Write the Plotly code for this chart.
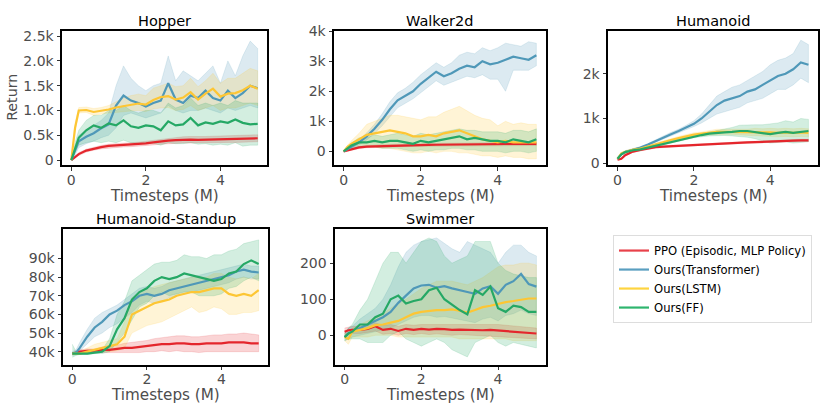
import plotly.graph_objects as go

# ---------------- data ----------------
X = [0, 0.1, 0.2, 0.4, 0.6, 0.8, 1.0, 1.2, 1.4, 1.6, 1.8, 2.0, 2.2, 2.4, 2.6,
     2.8, 3.0, 3.2, 3.4, 3.6, 3.8, 4.0, 4.2, 4.4, 4.6, 4.8, 5.0]

series_names = ["PPO (Episodic, MLP Policy)", "Ours(Transformer)", "Ours(LSTM)", "Ours(FF)"]
colors = ["#e4262c", "#4f98b8", "#fdc634", "#25a865"]
legend_colors = ["#e8414a", "#5a9fc0", "#fed43f", "#2eb56e"]

# Hopper
hop_ppo = [0, 60, 120, 190, 230, 260, 285, 295, 305, 310, 320, 335, 355, 375, 390, 400, 410, 410, 405, 410, 415, 415, 420, 425, 425, 435, 440]
hop_ppo_lo = [0, 40, 90, 160, 200, 225, 250, 255, 265, 270, 280, 290, 305, 320, 330, 340, 345, 345, 340, 345, 350, 350, 355, 355, 355, 360, 370]
hop_ppo_hi = [0, 80, 150, 220, 260, 295, 320, 335, 345, 350, 360, 380, 400, 425, 445, 460, 470, 475, 470, 475, 480, 480, 490, 495, 500, 510, 510]
hop_tr = [0, 200, 380, 470, 540, 640, 720, 1100, 1300, 1200, 1150, 1080, 1150, 1200, 1550, 1220, 1150, 1300, 1250, 1400, 1250, 1200, 1400, 1250, 1350, 1500, 1450]
hop_tr_lo = [0, 100, 250, 330, 380, 450, 500, 650, 900, 950, 900, 850, 900, 950, 1100, 1000, 950, 1000, 1000, 1050, 1000, 950, 1050, 1000, 1050, 1100, 1050]
hop_tr_hi = [0, 300, 500, 600, 700, 800, 950, 1500, 1900, 1650, 1500, 1400, 1500, 1550, 2100, 1600, 1800, 1700, 1600, 1750, 1900, 1550, 2000, 1700, 2100, 2400, 2250]
hop_lstm = [0, 650, 1000, 1010, 970, 990, 1020, 1060, 1085, 1110, 1140, 1120, 1210, 1270, 1290, 1220, 1260, 1370, 1220, 1340, 1440, 1280, 1340, 1350, 1410, 1500, 1440]
hop_lstm_lo = [0, 550, 950, 960, 900, 920, 950, 960, 970, 990, 1000, 980, 1030, 1050, 1060, 1000, 1020, 1100, 1000, 1050, 1100, 1000, 1050, 1050, 1100, 1150, 1100]
hop_lstm_hi = [0, 750, 1060, 1070, 1040, 1060, 1100, 1180, 1250, 1300, 1330, 1300, 1450, 1500, 1550, 1480, 1500, 1650, 1480, 1600, 1750, 1550, 1650, 1650, 1750, 1850, 1800]
hop_ff = [0, 250, 450, 600, 700, 650, 740, 700, 800, 680, 650, 700, 680, 600, 780, 700, 720, 850, 700, 760, 730, 780, 750, 820, 750, 720, 730]
hop_ff_lo = [0, 150, 300, 350, 380, 350, 380, 350, 400, 350, 330, 350, 340, 300, 350, 330, 330, 350, 320, 330, 300, 320, 300, 350, 280, 300, 300]
hop_ff_hi = [0, 350, 600, 800, 900, 900, 1000, 1000, 1100, 1000, 950, 1000, 1000, 950, 1150, 1050, 1100, 1250, 1100, 1150, 1100, 1150, 1100, 1200, 1150, 1150, 1150]

# Walker2d
wal_ppo = [0, 30, 60, 130, 160, 170, 180, 190, 195, 200, 205, 210, 215, 220, 225, 225, 230, 230, 235, 235, 240, 240, 245, 245, 250, 250, 250]
wal_ppo_lo = [0, 10, 30, 90, 120, 130, 140, 150, 155, 160, 165, 170, 170, 175, 180, 180, 185, 185, 190, 190, 190, 190, 195, 195, 195, 195, 195]
wal_ppo_hi = [0, 50, 90, 170, 200, 210, 220, 230, 235, 240, 245, 250, 260, 265, 270, 270, 275, 275, 280, 280, 290, 290, 295, 295, 305, 305, 305]
wal_tr = [0, 80, 150, 300, 500, 750, 1050, 1400, 1700, 1850, 2000, 2250, 2450, 2650, 2500, 2600, 2750, 2850, 2800, 3000, 2900, 2950, 3050, 3150, 3100, 3050, 3200]
wal_tr_lo = [0, 40, 100, 220, 380, 600, 850, 1150, 1450, 1600, 1750, 1950, 2150, 2350, 2200, 2300, 2400, 2500, 2450, 2550, 2400, 2400, 2000, 2700, 2700, 2700, 2850]
wal_tr_hi = [0, 120, 200, 380, 620, 900, 1250, 1650, 1950, 2100, 2300, 2550, 2750, 2950, 2800, 2950, 3200, 3300, 3250, 3450, 3350, 3450, 3600, 3550, 3500, 3650, 3600]
wal_lstm = [0, 150, 250, 400, 550, 600, 650, 700, 650, 600, 500, 500, 550, 500, 600, 650, 700, 600, 500, 400, 350, 300, 350, 300, 300, 300, 300]
wal_lstm_lo = [0, 100, 150, 200, 200, 150, 100, 100, 50, 0, -50, -50, 0, -50, 0, 0, -50, -50, -100, -150, -150, -200, -150, -200, -200, -250, -250]
wal_lstm_hi = [0, 200, 350, 600, 900, 1000, 1100, 1200, 1200, 1150, 1100, 1050, 1150, 1150, 1300, 1400, 1500, 1350, 1200, 1100, 1050, 850, 1000, 900, 950, 900, 900]
wal_ff = [0, 100, 200, 300, 300, 350, 300, 350, 350, 300, 250, 350, 300, 350, 400, 450, 500, 400, 450, 400, 350, 350, 300, 400, 350, 300, 400]
wal_ff_lo = [0, 50, 120, 150, 150, 150, 100, 100, 100, 50, 0, 50, 0, 50, 50, 100, 100, 50, 50, 0, 0, 0, -50, 0, 0, -50, 0]
wal_ff_hi = [0, 150, 280, 450, 450, 550, 500, 550, 600, 550, 500, 600, 550, 600, 650, 700, 750, 700, 700, 650, 650, 650, 600, 700, 700, 650, 750]

# Humanoid
hum_ppo = [80, 100, 180, 260, 300, 330, 360, 370, 380, 390, 400, 410, 420, 430, 440, 445, 450, 460, 465, 470, 480, 490, 495, 500, 505, 510, 510]
hum_ppo_lo = [70, 85, 160, 240, 280, 310, 340, 350, 360, 370, 380, 390, 400, 410, 420, 425, 430, 440, 445, 450, 460, 465, 470, 475, 480, 485, 485]
hum_ppo_hi = [90, 115, 200, 280, 320, 350, 380, 390, 400, 410, 420, 430, 440, 450, 460, 465, 470, 480, 485, 490, 500, 515, 520, 525, 530, 535, 535]
hum_tr = [100, 200, 250, 300, 350, 420, 500, 580, 650, 720, 800, 880, 1000, 1150, 1300, 1400, 1450, 1500, 1600, 1650, 1750, 1850, 1950, 2000, 2100, 2250, 2200]
hum_tr_lo = [90, 170, 220, 280, 330, 400, 470, 550, 610, 680, 750, 820, 900, 1000, 1100, 1150, 1200, 1250, 1350, 1400, 1450, 1550, 1650, 1650, 1750, 1900, 1800]
hum_tr_hi = [110, 230, 280, 320, 370, 440, 530, 610, 690, 760, 850, 950, 1100, 1300, 1500, 1600, 1700, 1750, 1850, 1950, 2050, 2200, 2300, 2350, 2450, 2750, 2650]
hum_lstm = [100, 220, 250, 300, 330, 380, 430, 470, 520, 560, 600, 640, 660, 680, 700, 700, 700, 700, 690, 700, 690, 690, 680, 690, 680, 690, 680]
hum_lstm_lo = [90, 190, 220, 270, 300, 350, 400, 440, 480, 520, 560, 600, 620, 630, 640, 640, 640, 630, 620, 620, 610, 600, 590, 600, 590, 600, 590]
hum_lstm_hi = [110, 250, 280, 330, 360, 410, 460, 500, 560, 600, 640, 680, 700, 730, 760, 760, 760, 770, 760, 780, 770, 780, 770, 780, 770, 780, 770]
hum_ff = [100, 200, 250, 290, 310, 350, 400, 440, 480, 520, 560, 600, 630, 660, 680, 690, 700, 720, 720, 700, 680, 650, 680, 700, 680, 700, 720]
hum_ff_lo = [90, 180, 230, 270, 290, 330, 380, 410, 450, 490, 530, 570, 590, 610, 620, 620, 610, 600, 580, 550, 500, 450, 470, 480, 450, 470, 480]
hum_ff_hi = [110, 220, 270, 310, 330, 370, 420, 470, 510, 550, 590, 630, 670, 700, 730, 760, 800, 850, 860, 860, 860, 880, 900, 950, 920, 1000, 980]

# Humanoid-Standup
hs_ppo = [39000, 39500, 40000, 40500, 40500, 41000, 41000, 41500, 42000, 42000, 42500, 43000, 43500, 44000, 44000, 44500, 44500, 44000, 44000, 44500, 44500, 44500, 45000, 45000, 45000, 44500, 44500]
hs_ppo_lo = [38500, 39000, 39000, 39500, 39500, 39500, 39500, 39500, 39500, 39500, 39500, 40000, 40000, 40500, 40000, 40500, 40000, 40000, 39500, 40000, 40000, 40000, 40000, 40000, 40000, 40000, 40000]
hs_ppo_hi = [39500, 40000, 41000, 41500, 41500, 42500, 43000, 43500, 44500, 45000, 45500, 46000, 47000, 47500, 48000, 48500, 48500, 48000, 48000, 48500, 49000, 49000, 49500, 49500, 50000, 49500, 49000]
hs_tr = [39000, 39500, 42000, 48000, 53000, 56000, 60000, 62000, 65000, 67000, 70000, 71000, 70000, 71000, 73000, 74000, 75000, 76000, 77000, 78000, 79000, 80000, 81000, 83000, 84000, 83000, 82500]
hs_tr_lo = [38000, 38500, 40000, 44000, 48000, 50000, 53000, 55000, 58000, 61000, 65000, 67000, 66000, 67000, 69000, 70000, 71000, 72000, 73000, 74000, 75000, 76000, 77000, 79000, 80000, 79000, 79000]
hs_tr_hi = [40000, 41000, 45000, 52000, 58000, 61000, 63000, 65000, 68000, 71000, 74000, 75000, 74000, 75000, 77000, 78000, 79000, 80000, 81000, 82000, 83000, 84000, 85000, 86000, 87000, 86000, 86000]
hs_lstm = [39000, 39000, 39000, 40000, 41000, 42000, 43000, 44000, 48000, 60000, 62000, 64000, 66000, 67000, 68000, 70000, 71000, 72000, 72000, 73000, 74000, 74000, 71000, 70000, 71000, 70000, 73000]
hs_lstm_lo = [38500, 38500, 38500, 39000, 39500, 40000, 40000, 40500, 42000, 50000, 52000, 54000, 55000, 56000, 58000, 60000, 62000, 64000, 61000, 62000, 64000, 63000, 60000, 60000, 61000, 61000, 62000]
hs_lstm_hi = [39500, 39500, 40000, 42000, 44000, 45000, 46000, 47000, 56000, 69000, 71000, 73000, 75000, 76000, 77000, 78000, 79000, 80000, 80000, 80000, 82000, 82000, 80000, 79000, 80000, 79000, 82000]
hs_ff = [39000, 39000, 39000, 39000, 39500, 40000, 43000, 52000, 58000, 68000, 72000, 74000, 78000, 80000, 79000, 80000, 82000, 81000, 80000, 79000, 78000, 79000, 82000, 83000, 87000, 89000, 87000]
hs_ff_lo = [37000, 38000, 38500, 38500, 39000, 39000, 40000, 45000, 50000, 57000, 64000, 66000, 70000, 72000, 70000, 71000, 72000, 72000, 70000, 70000, 70000, 71000, 74000, 75000, 78000, 80000, 78000]
hs_ff_hi = [44000, 40000, 39500, 39500, 40000, 41000, 47000, 60000, 67000, 78000, 81000, 84000, 87000, 88000, 88000, 89000, 92000, 91000, 91000, 90000, 92000, 92000, 94000, 95000, 98000, 99000, 100000]

# Swimmer
sw_ppo = [10, 14, 15, 15, 18, 25, 15, 18, 12, 18, 15, 18, 16, 18, 17, 15, 16, 15, 16, 14, 15, 13, 12, 10, 8, 7, 5]
sw_ppo_lo = [0, 5, 5, 5, 8, 12, 3, 5, 0, 5, 2, 5, 2, 4, 3, 0, 2, 0, 0, -2, -2, -4, -5, -6, -8, -9, -10]
sw_ppo_hi = [20, 22, 25, 25, 28, 35, 27, 30, 25, 30, 28, 30, 30, 32, 32, 30, 30, 30, 30, 30, 32, 30, 28, 26, 24, 22, 20]
sw_tr = [-5, 5, 10, 20, 30, 40, 50, 65, 90, 110, 130, 138, 140, 132, 136, 130, 124, 120, 115, 130, 136, 115, 140, 150, 170, 142, 135]
sw_tr_lo = [-15, -10, -5, 0, 5, 10, 15, 20, 30, 40, 50, 55, 55, 50, 52, 48, 45, 40, 35, 45, 50, 40, 55, 60, 70, 60, 55]
sw_tr_hi = [5, 20, 25, 45, 60, 75, 100, 140, 190, 230, 250, 260, 265, 270, 255, 240, 230, 260, 250, 240, 230, 200, 230, 250, 250, 230, 220]
sw_lstm = [-5, -10, 10, 15, 20, 28, 30, 35, 40, 50, 60, 65, 68, 70, 70, 72, 68, 63, 70, 78, 82, 88, 92, 95, 98, 102, 102]
sw_lstm_lo = [-15, -25, -5, -5, -5, 0, 0, 0, -5, -5, -5, -5, -5, -5, -5, -5, -10, -10, -10, -10, -10, -10, -10, -15, -15, -15, -15]
sw_lstm_hi = [5, 5, 20, 30, 40, 50, 60, 75, 90, 100, 115, 130, 140, 150, 150, 150, 145, 140, 150, 160, 175, 190, 195, 195, 200, 200, 195]
sw_ff = [-5, 5, 10, 30, 30, 50, 60, 100, 110, 88, 95, 100, 125, 132, 100, 85, 70, 58, 125, 112, 135, 75, 65, 82, 78, 65, 65]
sw_ff_lo = [-15, -10, -10, -10, -20, -20, -20, 0, 10, -10, -20, -30, -20, -10, -20, -40, -50, -60, -20, -10, 0, -20, -30, -20, -25, -30, -35]
sw_ff_hi = [5, 20, 30, 70, 100, 150, 200, 230, 230, 200, 230, 260, 270, 260, 220, 200, 210, 220, 260, 260, 260, 200, 180, 170, 165, 160, 160]

panels = [
    dict(title="Hopper", means=[hop_ppo, hop_tr, hop_lstm, hop_ff],
         los=[hop_ppo_lo, hop_tr_lo, hop_lstm_lo, hop_ff_lo],
         his=[hop_ppo_hi, hop_tr_hi, hop_lstm_hi, hop_ff_hi],
         yticks=[0, 500, 1000, 1500, 2000, 2500],
         yticktext=["0", "0.5k", "1.0k", "1.5k", "2.0k", "2.5k"], yrange=[-110, 2600]),
    dict(title="Walker2d", means=[wal_ppo, wal_tr, wal_lstm, wal_ff],
         los=[wal_ppo_lo, wal_tr_lo, wal_lstm_lo, wal_ff_lo],
         his=[wal_ppo_hi, wal_tr_hi, wal_lstm_hi, wal_ff_hi],
         yticks=[0, 1000, 2000, 3000, 4000],
         yticktext=["0", "1k", "2k", "3k", "4k"], yrange=[-470, 4000]),
    dict(title="Humanoid", means=[hum_ppo, hum_tr, hum_lstm, hum_ff],
         los=[hum_ppo_lo, hum_tr_lo, hum_lstm_lo, hum_ff_lo],
         his=[hum_ppo_hi, hum_tr_hi, hum_lstm_hi, hum_ff_hi],
         yticks=[0, 1000, 2000],
         yticktext=["0", "1k", "2k"], yrange=[-50, 2950]),
    dict(title="Humanoid-Standup", means=[hs_ppo, hs_tr, hs_lstm, hs_ff],
         los=[hs_ppo_lo, hs_tr_lo, hs_lstm_lo, hs_ff_lo],
         his=[hs_ppo_hi, hs_tr_hi, hs_lstm_hi, hs_ff_hi],
         yticks=[40000, 50000, 60000, 70000, 80000, 90000],
         yticktext=["40k", "50k", "60k", "70k", "80k", "90k"], yrange=[33100, 105700]),
    dict(title="Swimmer", means=[sw_ppo, sw_tr, sw_lstm, sw_ff],
         los=[sw_ppo_lo, sw_tr_lo, sw_lstm_lo, sw_ff_lo],
         his=[sw_ppo_hi, sw_tr_hi, sw_lstm_hi, sw_ff_hi],
         yticks=[0, 100, 200],
         yticktext=["0", "100", "200"], yrange=[-81, 294]),
]
x_ticks = [0, 2, 4]

# ---------------- layout geometry (pixels) ----------------
W, H = 831, 414
boxes = [(62, 267, 24, 163), (334, 546, 24, 163), (608, 818, 24, 163),
         (63, 268, 229, 369), (335, 546, 229, 369)]

FONT = "DejaVu Sans"
TICKC = "#4d4d4d"

def hex_rgba(h, a):
    h = h.lstrip("#")
    return "rgba(%d,%d,%d,%.2f)" % (int(h[0:2], 16), int(h[2:4], 16), int(h[4:6], 16), a)

fig = go.Figure()
layout = dict(width=W, height=H, autosize=False, margin=dict(l=0, r=0, t=0, b=0, pad=0),
              paper_bgcolor="white", plot_bgcolor="white",
              font=dict(family=FONT, color=TICKC), showlegend=True)
annotations = []

for i, (p, (x0, x1, y0, y1)) in enumerate(zip(panels, boxes)):
    n = i + 1
    xa = "x" if n == 1 else "x%d" % n
    ya = "y" if n == 1 else "y%d" % n
    for k in range(4):
        fig.add_trace(go.Scatter(
            x=X + X[::-1], y=p["his"][k] + p["los"][k][::-1],
            fill="toself", fillcolor=hex_rgba(colors[k], 0.2),
            line=dict(width=0.6, color=hex_rgba(colors[k], 0.25)),
            hoverinfo="skip", showlegend=False, xaxis=xa, yaxis=ya))
    for k in range(4):
        fig.add_trace(go.Scatter(
            x=X, y=p["means"][k], mode="lines",
            line=dict(color=colors[k], width=2.2),
            name=series_names[k], showlegend=False, xaxis=xa, yaxis=ya))
    axcommon = dict(showline=True, linecolor="black", linewidth=2, mirror=True,
                    ticks="outside", ticklen=3.5, tickwidth=1, tickcolor="#333",
                    showgrid=False, zeroline=False,
                    tickfont=dict(family=FONT, size=14, color=TICKC))
    layout["xaxis" if n == 1 else "xaxis%d" % n] = dict(
        axcommon, domain=[x0 / W, x1 / W], range=[-0.25, 5.25], ticklabelstandoff=-3,
        tickvals=x_ticks, ticktext=[str(t) for t in x_ticks], anchor=ya)
    layout["yaxis" if n == 1 else "yaxis%d" % n] = dict(
        axcommon, domain=[1 - y1 / H, 1 - y0 / H], range=p["yrange"],
        tickvals=p["yticks"], ticktext=p["yticktext"], anchor=xa)
    cx = (x0 + x1) / 2 / W
    annotations.append(dict(text=p["title"], x=cx, y=1 - (y0 - 11) / H, xref="paper", yref="paper",
                            showarrow=False, xanchor="center", yanchor="middle",
                            font=dict(family=FONT, size=14.5, color="black")))
    annotations.append(dict(text="Timesteps (M)", x=cx, y=1 - (y1 + 32) / H, xref="paper", yref="paper",
                            showarrow=False, xanchor="center", yanchor="middle",
                            font=dict(family=FONT, size=15.2, color=TICKC)))

annotations.append(dict(text="Return", x=12 / W, y=1 - 93 / H, xref="paper", yref="paper",
                        showarrow=False, textangle=-90, xanchor="center", yanchor="middle",
                        font=dict(family=FONT, size=14.2, color=TICKC)))

for k in range(4):
    fig.add_trace(go.Scatter(x=[None], y=[None], mode="lines",
                             line=dict(color=legend_colors[k], width=2.2),
                             name=series_names[k], showlegend=True, xaxis="x", yaxis="y"))

layout["annotations"] = annotations
layout["legend"] = dict(x=613 / W, y=1 - 235 / H, xanchor="left", yanchor="top",
                        bgcolor="white", bordercolor="#dddddd", borderwidth=1,
                        font=dict(family=FONT, size=11.6, color="black"),
                        tracegroupgap=0, itemwidth=30)
fig.update_layout(**layout)
fig.write_html(
    "out.html",
    config={"displayModeBar": False, "responsive": False},
    post_script=("document.documentElement.style.margin='0';"
                 "document.body.style.margin='0';document.body.style.padding='0';"
                 "document.body.style.overflow='hidden';"
                 "var d=document.getElementById('{plot_id}');"
                 "d.style.position='fixed';d.style.top='0px';d.style.left='0px';"))
